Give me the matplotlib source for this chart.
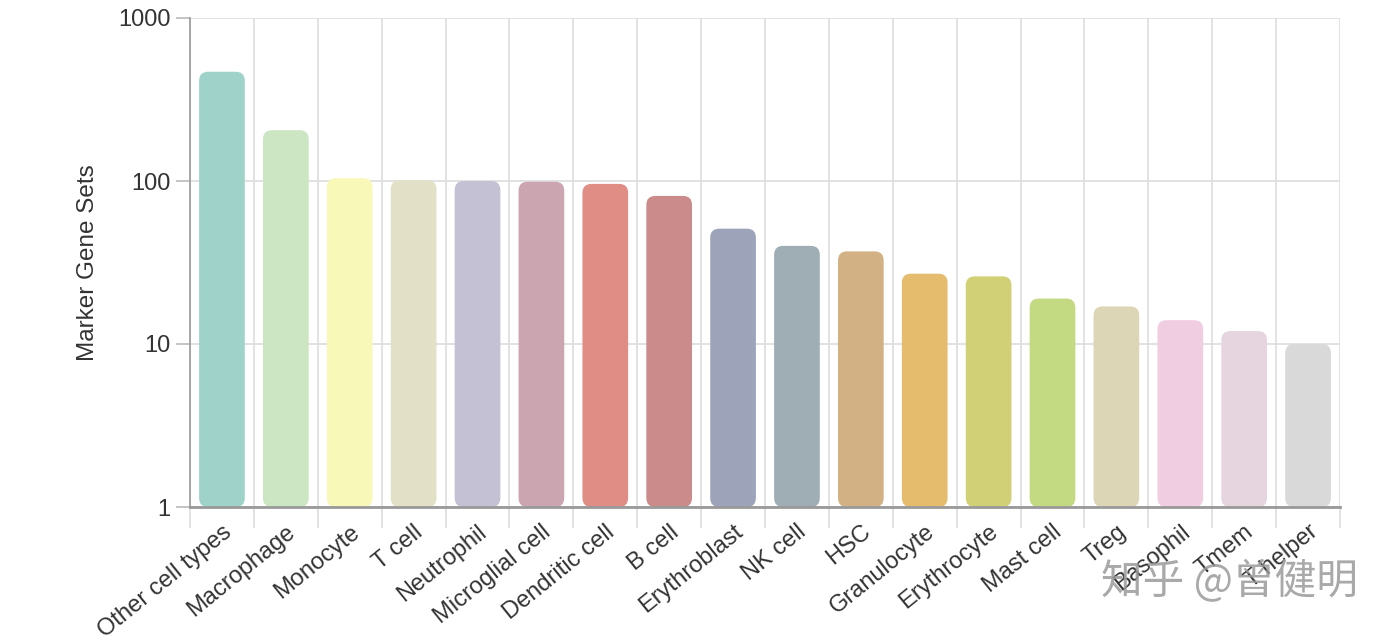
import matplotlib
matplotlib.use("Agg")
import matplotlib.pyplot as plt
from matplotlib.patches import FancyBboxPatch
import numpy as np

# данные
cell_types = ["Other cell types", "Macrophage", "Monocyte", "T cell", "Neutrophil",
              "Microglial cell", "Dendritic cell", "B cell", "Erythroblast", "NK cell",
              "HSC", "Granulocyte", "Erythrocyte", "Mast cell", "Treg", "Basophil",
              "Tmem", "T helper"]
gene_sets = [468, 205, 104, 101, 100, 99, 96, 81, 51, 40, 37, 27, 26, 19, 17, 14, 12, 10]
bar_colors = ["#9fd3c9", "#cce5c3", "#f8f9b9", "#e2e0c6", "#c4c1d4", "#cba5b0",
              "#e08d85", "#cb8b8a", "#9da4b9", "#9faeb4", "#d2b284", "#e5bb6d",
              "#d1d077", "#c4da82", "#dcd5b6", "#f1cde2", "#e6d4de", "#d9d9d9"]

W, H = 13.94, 6.4
fig = plt.figure(figsize=(W, H), dpi=100)
left, bottom, right, top = 190 / 1394, 1 - 507 / 640, 1340 / 1394, 1 - 18 / 640
ax = fig.add_axes([left, bottom, right - left, top - bottom])

n = len(cell_types)
ax.set_yscale("log")
ax.set_ylim(1, 1000)
ax.set_xlim(-0.5, n - 0.5)

# сетка
ax.set_xticks(np.arange(n + 1) - 0.5, minor=True)
ax.grid(True, which="minor", axis="x", color="#dddddd", lw=1.2)
ax.grid(True, which="major", axis="y", color="#dddddd", lw=1.2)
ax.set_axisbelow(True)
ax.tick_params(axis="x", which="minor", length=15, color="#dddddd", width=1.2)
ax.tick_params(axis="x", which="major", length=0, pad=10)
ax.tick_params(axis="y", which="minor", length=0)
ax.tick_params(axis="y", which="major", length=10, color="#bbbbbb", width=1.2,
               labelsize=17, labelcolor="#333333", pad=4)

ax.set_yticks([1, 10, 100, 1000])
ax.set_yticklabels(["1", "10", "100", "1000"])
ax.set_xticks(np.arange(n))
ax.set_xticklabels(cell_types, rotation=39, ha="right", rotation_mode="anchor",
                   fontsize=17, color="#333333")

for s in ["top", "right"]:
    ax.spines[s].set_visible(False)
ax.spines["left"].set_color("#999999")
ax.spines["left"].set_linewidth(1.2)
ax.spines["bottom"].set_color("#999999")
ax.spines["bottom"].set_linewidth(2)

ax.set_ylabel("Marker Gene Sets", fontsize=17.5, color="#333333", labelpad=14)

# столбцы со скругленными углами (рисуем в координатах осей)
to_axes = ax.transScale + ax.transLimits
ax_w_px = (right - left) * W * 100
ax_h_px = (top - bottom) * H * 100
bw = 0.715
r = 9 / ax_w_px
for i, (v, c) in enumerate(zip(gene_sets, bar_colors)):
    x0, y0 = to_axes.transform((i - bw / 2, 1))
    x1, y1 = to_axes.transform((i + bw / 2, v))
    patch = FancyBboxPatch((x0, y0), x1 - x0, y1 - y0,
                           boxstyle=f"round,pad=0,rounding_size={r}",
                           mutation_aspect=ax_w_px / ax_h_px,
                           transform=ax.transAxes, facecolor=c, edgecolor="none",
                           zorder=2)
    ax.add_patch(patch)

# водяной знак
fig.text(1358 / 1394, 1 - 582 / 640, "知乎 @曾健明", ha="right", va="center",
         fontsize=30, color="#9a9a9a", alpha=0.85,
         family=["Noto Sans CJK SC", "DejaVu Sans"])

for lab in ax.get_xticklabels() + ax.get_yticklabels():
    lab.set_family(["Liberation Sans", "DejaVu Sans"])
ax.yaxis.label.set_family(["Liberation Sans", "DejaVu Sans"])

fig.savefig("out.png", dpi=100, facecolor="white")
